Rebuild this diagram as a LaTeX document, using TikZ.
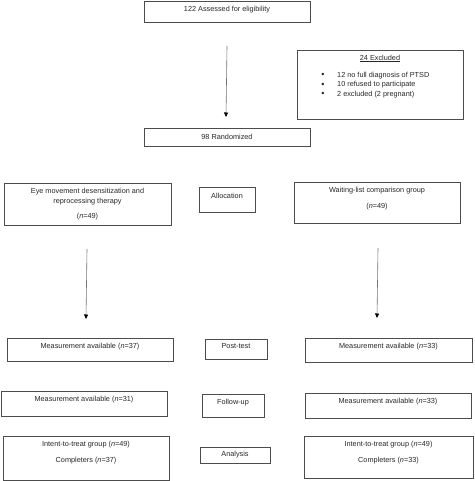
\documentclass[tikz,border=0pt]{standalone}
\usepackage{fontspec}
\setmainfont{Liberation Sans}
\usetikzlibrary{arrows.meta}
\newcommand\mkbox[5]{\node[box, minimum width={(#4-#2)*1pt}, minimum height={(#5-#3)*1pt}] (#1) at ({(#2+#4)/2},{(#3+#5)/2}) {};}
\begin{document}
\begin{tikzpicture}[x=1pt,y=-1pt,
  box/.style={draw=black!70, line width=0.8pt, inner sep=0pt, outer sep=0pt},
  txt/.style={font=\fontsize{7.3}{10}\selectfont, text=black!85, inner sep=0pt, align=center},
  bul/.style={font=\fontsize{9}{10}\selectfont, text=black!85, inner sep=0pt},
  arr/.style={draw=black!55, line width=0.6pt, -{Triangle[length=4.5pt,width=4pt,fill=black,color=black]}}]
\useasboundingbox (0,0) rectangle (474,481);
% boxes
\mkbox{assess}{144}{1}{310}{22}
\mkbox{excl}{297}{50}{463}{119}
\mkbox{rand}{144}{128}{310}{146}
\mkbox{emdr}{4}{183}{171}{225}
\mkbox{alloc}{199}{187}{255}{212}
\mkbox{wait}{294}{182}{460}{223}
\mkbox{ma}{7}{338}{173}{361}
\mkbox{post}{205}{339}{267}{359}
\mkbox{mb}{305}{338}{472}{362}
\mkbox{mc}{1}{391}{167}{416}
\mkbox{follow}{202}{394}{264}{417}
\mkbox{md}{305}{393}{471}{418}
\mkbox{itta}{3}{436}{169}{480}
\mkbox{anal}{200}{447}{270}{463}
\mkbox{ittb}{304}{436}{473}{478}
% texts
\node[txt] (tassess) at (227,9.5) {122 Assessed for eligibility};
\node[txt] (texcl) at (380,58.5) {\underline{24 Excluded}};
\node[bul] (b1) at (323,75.5) {•};
\node[bul] (b2) at (323,85) {•};
\node[bul] (b3) at (323,94.5) {•};
\node[txt, anchor=west] (e1) at (337,75.5) {12 no full diagnosis of PTSD};
\node[txt, anchor=west] (e2) at (337,85) {10 refused to participate};
\node[txt, anchor=west] (e3) at (337,94.5) {2 excluded (2 pregnant)};
\node[txt] (trand) at (227,137) {98 Randomized};
\node[txt] (temdr) at (87.5,204.5) {Eye movement desensitization and\\reprocessing therapy\\[5pt](\textit{n}=49)};
\node[txt] (talloc) at (227,196) {Allocation};
\node[txt] (twait) at (377,199) {Waiting-list comparison group\\[6pt](\textit{n}=49)};
\node[txt] (tma) at (90,347) {Measurement available (\textit{n}=37)};
\node[txt] (tpost) at (236,346.5) {Post-test};
\node[txt] (tmb) at (388.5,347) {Measurement available (\textit{n}=33)};
\node[txt] (tmc) at (84,400) {Measurement available (\textit{n}=31)};
\node[txt] (tfollow) at (233,403) {Follow-up};
\node[txt] (tmd) at (388,402) {Measurement available (\textit{n}=33)};
\node[txt] (titta) at (86,453) {Intent-to-treat group (\textit{n}=49)\\[6pt]Completers (\textit{n}=37)};
\node[txt] (tanal) at (235,455) {Analysis};
\node[txt] (tittb) at (388.5,453) {Intent-to-treat group (\textit{n}=49)\\[6pt]Completers (\textit{n}=33)};
% arrow end points
\coordinate (a1s) at (227,46);
\coordinate (a1e) at (226,117);
\coordinate (a2s) at (87,249);
\coordinate (a2e) at (86,319);
\coordinate (a3s) at (378,248);
\coordinate (a3e) at (377,318);
\draw[arr] (a1s) -- (a1e);
\draw[arr] (a2s) -- (a2e);
\draw[arr] (a3s) -- (a3e);
\end{tikzpicture}
\end{document}
